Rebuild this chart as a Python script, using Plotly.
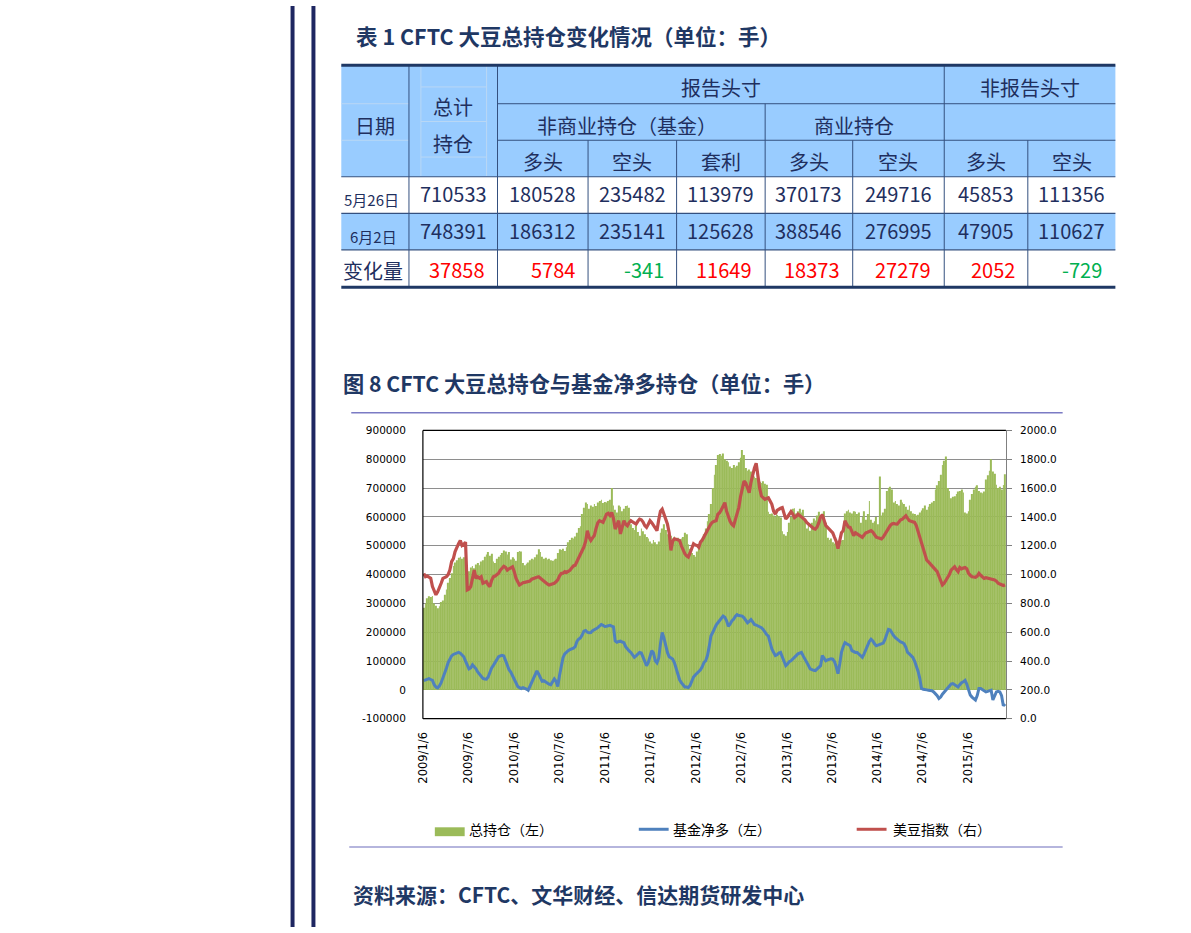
import plotly.graph_objects as go
import pandas as pd

W, H = 1191, 933

# ---------------- table data ----------------
header_top = ["报告头寸", "非报告头寸"]
header_mid = ["非商业持仓（基金）", "商业持仓"]
header_leaf = ["多头", "空头", "套利", "多头", "空头", "多头", "空头"]
row_labels = ["5月26日", "6月2日", "变化量"]
row_0526 = [710533, 180528, 235482, 113979, 370173, 249716, 45853, 111356]
row_0602 = [748391, 186312, 235141, 125628, 388546, 276995, 47905, 110627]
row_change = [37858, 5784, -341, 11649, 18373, 27279, 2052, -729]

# ---------------- chart data (weekly, 2009/1/6 - 2015/6/2) ----------------
total_oi = [
    285000, 300000, 318000, 325000, 322000, 326000, 300000, 292000, 283000, 290000,
    305000, 310000, 330000, 348000, 372000, 388000, 405000, 430000, 442000, 450000,
    458000, 462000, 455000, 460000, 448000, 405000, 412000, 425000, 430000, 422000,
    435000, 440000, 432000, 445000, 450000, 462000, 470000, 478000, 465000, 472000,
    445000, 440000, 455000, 462000, 468000, 475000, 484000, 480000, 470000, 478000,
    452000, 460000, 455000, 448000, 478000, 482000, 480000, 440000, 432000, 438000,
    442000, 450000, 455000, 452000, 460000, 470000, 488000, 478000, 462000, 455000,
    458000, 452000, 455000, 450000, 448000, 452000, 455000, 475000, 488000, 485000,
    490000, 482000, 495000, 512000, 520000, 528000, 525000, 532000, 545000, 562000,
    568000, 610000, 632000, 650000, 645000, 628000, 640000, 635000, 645000, 638000,
    650000, 655000, 660000, 648000, 652000, 650000, 655000, 660000, 700000, 640000,
    625000, 615000, 640000, 635000, 620000, 628000, 638000, 640000, 632000, 575000,
    562000, 555000, 570000, 548000, 535000, 560000, 550000, 540000, 530000, 525000,
    515000, 508000, 520000, 512000, 505000, 515000, 545000, 560000, 575000, 555000,
    540000, 528000, 535000, 525000, 532000, 522000, 528000, 520000, 525000, 530000,
    545000, 540000, 505000, 490000, 475000, 468000, 462000, 480000, 495000, 505000,
    520000, 540000, 560000, 585000, 610000, 645000, 700000, 746000, 780000, 815000,
    818000, 812000, 820000, 800000, 795000, 790000, 775000, 770000, 780000, 772000,
    778000, 790000, 805000, 832000, 815000, 770000, 760000, 765000, 758000, 746000,
    740000, 735000, 745000, 722000, 718000, 724000, 715000, 712000, 618000, 610000,
    612000, 605000, 600000, 608000, 602000, 598000, 550000, 540000, 535000, 548000,
    580000, 600000, 628000, 630000, 612000, 620000, 628000, 615000, 625000, 590000,
    560000, 575000, 552000, 580000, 595000, 588000, 605000, 618000, 592000, 612000,
    620000, 580000, 528000, 520000, 525000, 512000, 508000, 515000, 505000, 510000,
    518000, 520000, 612000, 620000, 625000, 615000, 612000, 620000, 618000, 610000,
    615000, 580000, 600000, 620000, 590000, 610000, 655000, 590000, 580000, 585000,
    600000, 575000, 740000, 605000, 615000, 628000, 690000, 700000, 705000, 695000,
    650000, 655000, 645000, 640000, 660000, 650000, 645000, 635000, 625000, 640000,
    620000, 612000, 610000, 605000, 608000, 615000, 622000, 630000, 640000, 625000,
    635000, 645000, 650000, 655000, 695000, 710000, 725000, 746000, 780000, 795000,
    810000, 700000, 690000, 665000, 670000, 672000, 680000, 688000, 690000, 695000,
    685000, 615000, 612000, 620000, 660000, 680000, 695000, 705000, 710000, 690000,
    685000, 682000, 688000, 730000, 745000, 760000, 800000, 758000, 750000, 712000,
    700000, 705000, 695000, 710533, 748391,
]

fund_net_long = [
    32000, 35000, 38000, 39000, 36000, 33000, 18000, 10000, 7000, 14000,
    25000, 40000, 55000, 75000, 95000, 108000, 118000, 123000, 126000, 128000,
    130000, 127000, 120000, 115000, 100000, 85000, 73000, 76000, 87000, 80000,
    73000, 62000, 55000, 46000, 40000, 38000, 37000, 45000, 62000, 76000,
    85000, 95000, 108000, 115000, 118000, 120000, 118000, 100000, 80000, 70000,
    62000, 50000, 35000, 22000, 12000, 8000, 5000, 8000, 6000, 3000,
    -1000, 12000, 26000, 39000, 55000, 66000, 55000, 45000, 30000, 32000,
    28000, 22000, 20000, 18000, 28000, 38000, 30000, 12000, 50000, 89000,
    112000, 125000, 132000, 136000, 140000, 142000, 145000, 150000, 168000, 176000,
    180000, 190000, 204000, 206000, 200000, 198000, 199000, 205000, 210000, 212000,
    216000, 222000, 227000, 224000, 220000, 221000, 222000, 224000, 221000, 219000,
    170000, 165000, 168000, 169000, 166000, 164000, 150000, 140000, 135000, 130000,
    122000, 113000, 118000, 125000, 130000, 128000, 115000, 100000, 84000, 95000,
    120000, 136000, 128000, 101000, 94000, 110000, 160000, 199000, 180000, 150000,
    130000, 115000, 110000, 107000, 95000, 75000, 50000, 35000, 25000, 15000,
    10000, 10000, 8000, 15000, 30000, 45000, 52000, 58000, 62000, 70000,
    80000, 95000, 101000, 119000, 150000, 187000, 199000, 215000, 225000, 233000,
    240000, 248000, 256000, 252000, 240000, 221000, 228000, 239000, 245000, 255000,
    261000, 258000, 256000, 256000, 250000, 240000, 233000, 238000, 244000, 236000,
    227000, 225000, 222000, 218000, 216000, 210000, 200000, 192000, 187000, 165000,
    142000, 130000, 119000, 122000, 128000, 130000, 115000, 100000, 84000, 90000,
    98000, 101000, 108000, 115000, 119000, 125000, 128000, 130000, 118000, 105000,
    96000, 85000, 73000, 70000, 68000, 67000, 72000, 78000, 84000, 119000,
    110000, 101000, 104000, 106000, 108000, 107000, 98000, 80000, 56000, 90000,
    130000, 150000, 164000, 160000, 155000, 153000, 136000, 133000, 130000, 130000,
    125000, 118000, 113000, 125000, 140000, 155000, 168000, 176000, 170000, 160000,
    153000, 155000, 158000, 159000, 162000, 175000, 195000, 210000, 208000, 195000,
    188000, 181000, 175000, 170000, 166000, 164000, 160000, 148000, 130000, 125000,
    118000, 113000, 100000, 85000, 65000, 40000, 5000, 2000, 0, 0,
    -1000, -1000, -3000, -7000, -12000, -20000, -30000, -25000, -15000, -8000,
    -1000, 8000, 15000, 20000, 22000, 18000, 12000, 10000, 18000, 25000,
    28000, 33000, 20000, 0, -18000, -25000, -30000, -35000, -20000, 5000,
    5000, 0, -5000, -7000, -5000, -3000, -1000, -35000, -20000, -7000,
    -5000, -7000, -20000, -54954, -48829,
]

soybean_index = [
    1008, 985, 990, 981, 975, 917, 880, 860, 880, 905,
    940, 974, 980, 985, 1000, 1031, 1090, 1111, 1160, 1191,
    1215, 1237, 1202, 1210, 1225, 894, 900, 917, 980, 1031,
    974, 985, 975, 985, 940, 945, 951, 930, 917, 960,
    985, 990, 997, 1010, 1031, 1045, 1058, 1050, 1031, 1040,
    1050, 1054, 1020, 974, 950, 928, 935, 944, 946, 948,
    951, 955, 968, 974, 980, 982, 985, 975, 960, 951,
    945, 935, 928, 932, 938, 940, 950, 963, 990, 1008,
    1010, 1020, 1015, 1020, 1030, 1045, 1060, 1065, 1090, 1122,
    1140, 1165, 1191, 1230, 1305, 1260, 1237, 1255, 1271, 1320,
    1360, 1374, 1368, 1362, 1390, 1419, 1425, 1410, 1431, 1390,
    1316, 1350, 1374, 1282, 1320, 1374, 1350, 1339, 1360, 1374,
    1365, 1355, 1351, 1370, 1385, 1380, 1365, 1340, 1328, 1350,
    1374, 1360, 1340, 1320, 1305, 1380, 1440, 1454, 1420, 1396,
    1351, 1290, 1168, 1230, 1248, 1245, 1240, 1237, 1200, 1170,
    1145, 1130, 1122, 1150, 1190, 1214, 1205, 1202, 1190, 1225,
    1240, 1260, 1282, 1310, 1330, 1351, 1365, 1370, 1374, 1419,
    1430, 1450, 1475, 1499, 1440, 1396, 1370, 1350, 1339, 1380,
    1430, 1465, 1540, 1600, 1648, 1636, 1600, 1568, 1640, 1705,
    1740, 1773, 1670, 1600, 1545, 1530, 1522, 1528, 1533, 1510,
    1488, 1440, 1419, 1445, 1454, 1460, 1465, 1430, 1385, 1400,
    1420, 1437, 1420, 1396, 1405, 1419, 1410, 1400, 1396, 1380,
    1362, 1350, 1340, 1328, 1320, 1316, 1330, 1360, 1400, 1415,
    1380, 1340, 1328, 1315, 1305, 1290, 1259, 1230, 1180, 1240,
    1290, 1305, 1374, 1350, 1330, 1328, 1300, 1271, 1290, 1282,
    1270, 1265, 1259, 1275, 1290, 1294, 1300, 1305, 1295, 1280,
    1259, 1255, 1250, 1248, 1260, 1280, 1305, 1320, 1340, 1351,
    1355, 1351, 1350, 1365, 1380, 1385, 1400, 1408, 1390, 1374,
    1370, 1365, 1362, 1340, 1300, 1259, 1220, 1168, 1130, 1100,
    1088, 1075, 1065, 1050, 1035, 1020, 990, 960, 928, 940,
    960, 974, 1000, 1031, 1040, 1054, 1035, 1020, 1049, 1040,
    1045, 1049, 1040, 1010, 995, 985, 983, 981, 990, 1008,
    995, 985, 974, 978, 975, 974, 970, 968, 963, 955,
    940, 935, 930, 924, 928,
]

weeks = pd.date_range("2009-01-06", periods=len(total_oi), freq="7D")

x_tick_dates = ["2009-01-06", "2009-07-06", "2010-01-06", "2010-07-06", "2011-01-06",
                "2011-07-06", "2012-01-06", "2012-07-06", "2013-01-06", "2013-07-06",
                "2014-01-06", "2014-07-06", "2015-01-06"]
x_tick_text = ["2009/1/6", "2009/7/6", "2010/1/6", "2010/7/6", "2011/1/6", "2011/7/6",
               "2012/1/6", "2012/7/6", "2013/1/6", "2013/7/6", "2014/1/6", "2014/7/6",
               "2015/1/6"]
left_tickvals = [-100000, 0, 100000, 200000, 300000, 400000, 500000, 600000, 700000, 800000, 900000]
left_ticktext = ["-100000", "0", "100000", "200000", "300000", "400000", "500000",
                 "600000", "700000", "800000", "900000"]
right_tickvals = [0, 200, 400, 600, 800, 1000, 1200, 1400, 1600, 1800, 2000]

legend_names = ["总持仓（左）", "基金净多（左）", "美豆指数（右）"]

# ---------------- styling ----------------
NAVY = "#1F3864"
TXT = "#1F2F5E"
HDR_BG = "#99CCFF"
GRID_LINE = "#34507F"
FAINT = "#B9D7F5"
GREEN_DARK = "#9BBB59"
BLUE = "#4F81BD"
RED = "#C0504D"
CJK = "Noto Sans CJK SC"


def px(x):
    return x / W


def py(y):
    return 1 - y / H


shapes = []
annotations = []


def rect(x0, y0, x1, y1, fill, layer="below"):
    shapes.append(dict(type="rect", xref="paper", yref="paper", x0=px(x0), x1=px(x1),
                       y0=py(y1), y1=py(y0), fillcolor=fill, line=dict(width=0), layer=layer))


def line(x0, y0, x1, y1, color, width=1, layer="above"):
    shapes.append(dict(type="line", xref="paper", yref="paper", x0=px(x0), x1=px(x1),
                       y0=py(y0), y1=py(y1), line=dict(color=color, width=width), layer=layer))


def text(x, y, s, size=20, color=TXT, xanchor="center", bold=False, family=CJK):
    annotations.append(dict(x=px(x), y=py(y), xref="paper", yref="paper",
                            text=("<b>%s</b>" % s) if bold else s, showarrow=False,
                            xanchor=xanchor, yanchor="middle",
                            font=dict(size=size, color=color, family=family)))


# page side rules
rect(286, 0, 290, 933, "#1E2761", layer="above")
rect(307, 0, 311, 933, "#1E2761", layer="above")

# ---------------- table ----------------
col = [337, 405, 494, 585, 674, 763, 851, 943, 1027, 1115]
row = [60, 99, 136, 173, 210, 247, 285]

rect(col[0], row[0], col[-1], row[3], HDR_BG)
rect(col[0], row[4], col[-1], row[5], HDR_BG)

for yy in (row[1], row[2]):
    line(col[0], yy, col[1], yy, FAINT, 1)
for xx in (417, 483):
    line(xx, row[0], xx, row[3], FAINT, 1)
for yy in (82, 117, 153):
    line(417, yy, 483, yy, FAINT, 1)

line(col[1], row[0], col[1], row[6], GRID_LINE, 1)
line(col[2], row[0], col[2], row[6], GRID_LINE, 1)
line(col[7], row[0], col[7], row[6], GRID_LINE, 1)
line(col[5], row[1], col[5], row[6], GRID_LINE, 1)
for c in (col[3], col[4], col[6], col[8]):
    line(c, row[2], c, row[6], GRID_LINE, 1)
line(col[2], row[1], col[-1], row[1], GRID_LINE, 1)
line(col[2], row[2], col[-1], row[2], GRID_LINE, 1)
for r in (row[3], row[4], row[5]):
    line(col[0], r, col[-1], r, GRID_LINE, 1.2)
line(col[0], row[0], col[-1], row[0], NAVY, 3)
line(col[0], row[6], col[-1], row[6], NAVY, 3)

text((col[0] + col[1]) / 2, 121, "日期")
text((col[1] + col[2]) / 2, 102, "总计")
text((col[1] + col[2]) / 2, 139, "持仓")
text((col[2] + col[7]) / 2, 83, header_top[0])
text((col[7] + col[9]) / 2, 83, header_top[1])
text(624, 121, header_mid[0])
text((col[5] + col[7]) / 2 - 1, 121, header_mid[1])
for k, name in enumerate(header_leaf):
    text((col[k + 2] + col[k + 3]) / 2, 158, name)

text(338, 196, row_labels[0], size=15, xanchor="left")
text(369, 233, row_labels[1], size=15)
text(337, 268, row_labels[2], size=20, xanchor="left")
for k in range(8):
    cx = (col[k + 1] + col[k + 2]) / 2
    text(cx, 190, str(row_0526[k]))
    text(cx, 227, str(row_0602[k]))
    v = row_change[k]
    text(col[k + 2] - 11, 267, str(v), color=("#FF0000" if v > 0 else "#00B050"),
         xanchor="right")

# ---------------- titles / frame ----------------
text(350, 30, "表 1 CFTC 大豆总持仓变化情况（单位：手）", size=21.5, color=NAVY,
     xanchor="left", bold=True)
text(337, 381, "图 8 CFTC 大豆总持仓与基金净多持仓（单位：手）", size=21.2, color=NAVY,
     xanchor="left", bold=True)
text(347, 900, "资料来源：CFTC、文华财经、信达期货研发中心", size=21, color=NAVY,
     xanchor="left", bold=True)
line(347, 412, 1062, 412, "#7B7BC4", 1.5)
line(345, 852, 1062, 852, "#9C9CD2", 1.5)

for (a, b, c, d) in ((0, 0, 0, 1), (0, 1, 1, 1), (0, 0, 1, 0)):
    shapes.append(dict(type="line", xref="x domain", yref="y domain", x0=a, y0=b, x1=c, y1=d,
                       line=dict(color="#000000", width=1.2), layer="above"))

rect(431, 832, 461, 841, GREEN_DARK, layer="above")
text(463, 834, legend_names[0], size=14, color="#000000", xanchor="left")
line(636, 834, 666, 834, BLUE, 3)
text(668, 834, legend_names[1], size=14, color="#000000", xanchor="left")
line(855, 834, 885, 834, RED, 3)
text(889, 834, legend_names[2], size=14, color="#000000", xanchor="left")

# ---------------- traces ----------------
week_ms = 7 * 24 * 3600 * 1000
fig = go.Figure()
fig.add_trace(go.Bar(x=weeks, y=total_oi, name=legend_names[0], width=week_ms * 0.45,
                     marker=dict(color=GREEN_DARK, line=dict(width=0)), showlegend=False))
fig.add_trace(go.Scatter(x=weeks, y=fund_net_long, name=legend_names[1], mode="lines",
                         line=dict(color=BLUE, width=3), showlegend=False))
fig.add_trace(go.Scatter(x=weeks, y=soybean_index, name=legend_names[2], mode="lines",
                         line=dict(color=RED, width=3.2), yaxis="y2", showlegend=False))

fig.update_layout(
    width=W, height=H,
    margin=dict(l=0, r=0, t=0, b=0),
    paper_bgcolor="white", plot_bgcolor="rgba(0,0,0,0)",
    barmode="overlay",
    showlegend=False,
    font=dict(family="DejaVu Sans", color="#000000"),
    xaxis=dict(domain=[px(419), px(1005)], type="date",
               range=["2009-01-02 12:00", "2015-06-05 12:00"],
               tickmode="array", tickvals=x_tick_dates, ticktext=x_tick_text,
               tickangle=-90, tickfont=dict(size=11.5, family="DejaVu Sans", color="#000"),
               showgrid=False, zeroline=False, showline=False, ticks="",
               ticklabelstandoff=10),
    yaxis=dict(domain=[py(722), py(430)], range=[-100000, 900000],
               tickmode="array", tickvals=left_tickvals, ticktext=left_ticktext,
               tickfont=dict(size=10.5, family="DejaVu Sans", color="#000"),
               showgrid=True, gridcolor="#8E8E8E", gridwidth=1, zeroline=False,
               showline=False, ticks="", ticklabelstandoff=16),
    yaxis2=dict(overlaying="y", side="right", anchor="x", range=[0, 2000],
                tickmode="array", tickvals=right_tickvals, tickformat=".1f",
                tickfont=dict(size=10.5, family="DejaVu Sans", color="#000"),
                showgrid=False, zeroline=False, showline=True, linecolor="#808080",
                linewidth=1, ticks="outside", ticklen=5, tickcolor="#808080",
                ticklabelstandoff=6),
    shapes=shapes,
    annotations=annotations,
)

fig.write_html("out.html", config={"displayModeBar": False})
